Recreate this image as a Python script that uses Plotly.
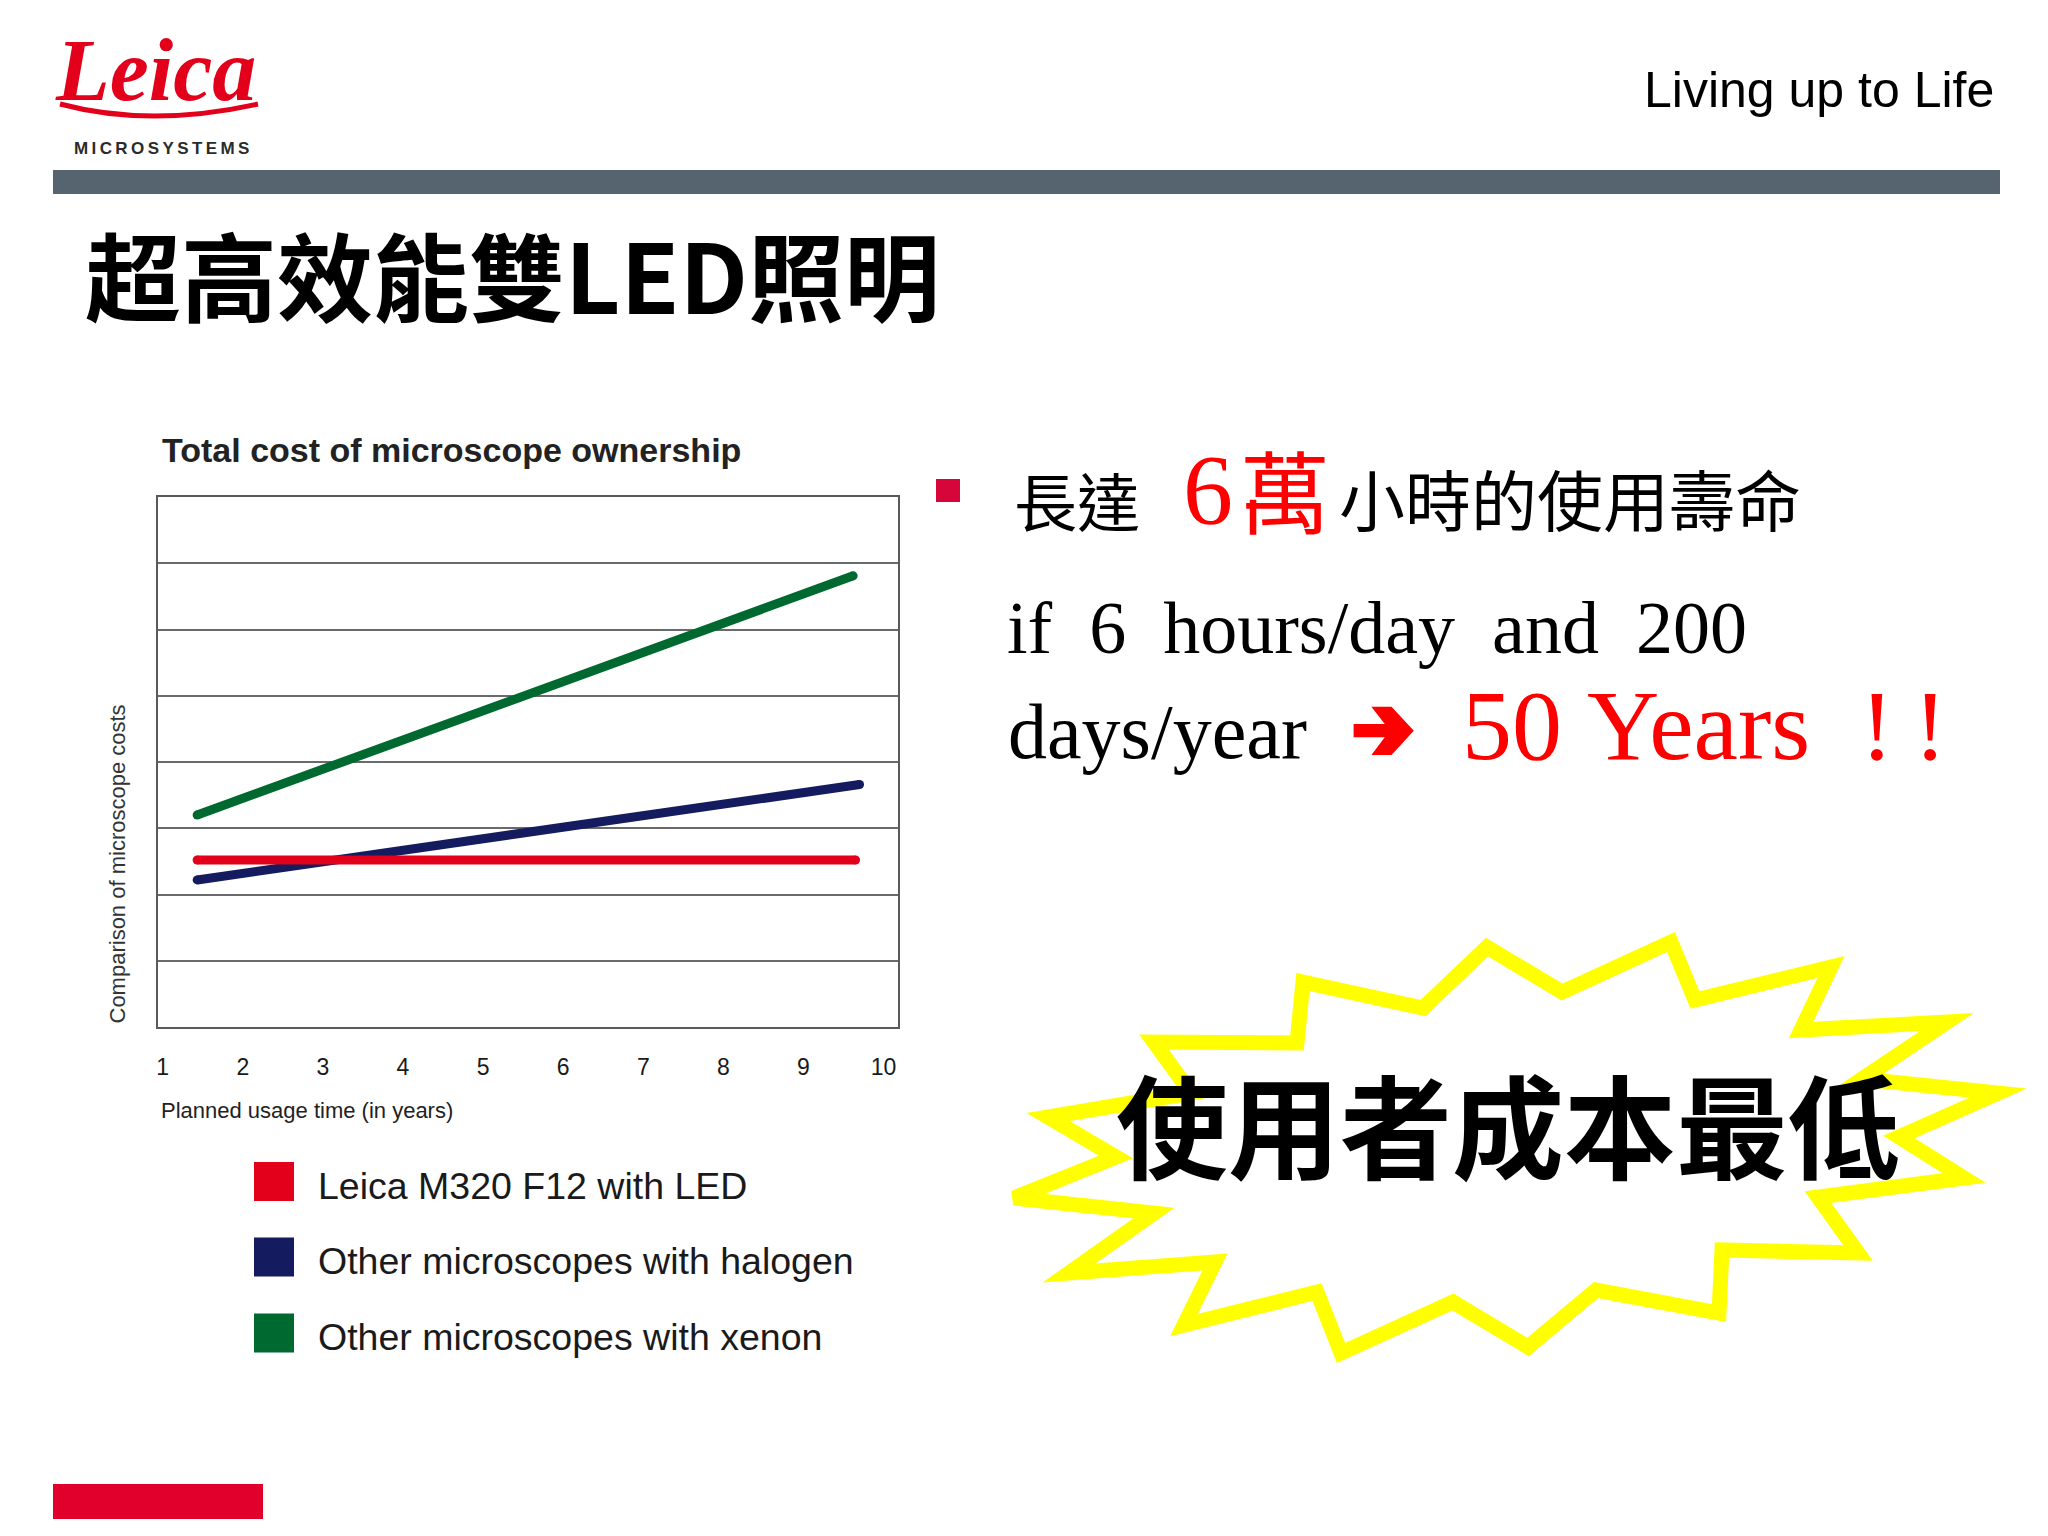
import plotly.graph_objects as go

# page body has an 8px default margin; size figure so it fits the window exactly
OFF = 8
W, H = 2048 - OFF, 1536 - OFF

# ---------------- data ----------------
years = [1, 2, 3, 4, 5, 6, 7, 8, 9, 10]
year_labels = [str(v) for v in years]
series_names = ["Leica M320 F12 with LED",
                "Other microscopes with halogen",
                "Other microscopes with xenon"]
series_colors = ["#E2001A", "#141B5E", "#00692F"]
led_x = [1.43, 9.65]
led_y = [2.52, 2.52]
halogen_x = [1.43, 9.70]
halogen_y = [2.22, 3.66]
xenon_x = [1.43, 9.62]
xenon_y = [3.20, 6.81]
grid_values = [0, 1, 2, 3, 4, 5, 6, 7, 8]


def px(x):
    return (x - OFF) / W


def py(y):
    return 1 - (y - OFF) / H


def path_from(points, close=True):
    s = "M " + " L ".join(f"{px(x):.5f},{py(y):.5f}" for x, y in points)
    return s + (" Z" if close else "")


SANS = "Liberation Sans, Arial, sans-serif"
SERIF = "Liberation Serif, Times New Roman, serif"
CJK = "Noto Sans CJK TC, Noto Sans CJK SC, sans-serif"

fig = go.Figure()

# lines (green, blue, red drawn last on top)
for xs, ys, name, col in [(xenon_x, xenon_y, series_names[2], series_colors[2]),
                          (halogen_x, halogen_y, series_names[1], series_colors[1]),
                          (led_x, led_y, series_names[0], series_colors[0])]:
    fig.add_trace(go.Scatter(x=xs, y=ys, mode="lines+markers", name=name,
                             line=dict(color=col, width=9),
                             marker=dict(color=col, size=9, line=dict(width=0)),
                             showlegend=False, hoverinfo="skip"))

fig.update_layout(
    width=W, height=H, autosize=False,
    margin=dict(l=0, r=0, t=0, b=0),
    paper_bgcolor="white", plot_bgcolor="white",
    showlegend=False,
    xaxis=dict(domain=[px(157.5), px(898)], range=[0.935, 10.18],
               tickmode="array", tickvals=years, ticktext=year_labels,
               ticks="outside", ticklen=19, tickcolor="rgba(0,0,0,0)",
               tickfont=dict(family=SANS, size=23, color="#1a1a1a"),
               showgrid=False, zeroline=False,
               showline=True, linecolor="#5a5a5a", linewidth=1.5, mirror=True,
               fixedrange=True),
    yaxis=dict(domain=[py(1027), py(497)], range=[0, 8],
               tickmode="array", tickvals=grid_values, showticklabels=False,
               showgrid=True, gridcolor="#6a6a6a", gridwidth=1.5,
               zeroline=False, ticks="",
               showline=True, linecolor="#5a5a5a", linewidth=1.5, mirror=True,
               fixedrange=True),
)

shapes = []
# header gray bar
shapes.append(dict(type="rect", xref="paper", yref="paper",
                   x0=px(53), x1=px(2000), y0=py(194), y1=py(170),
                   fillcolor="#566470", line=dict(width=0), layer="below"))
# bottom red bar
shapes.append(dict(type="rect", xref="paper", yref="paper",
                   x0=px(53), x1=px(263), y0=py(1519), y1=py(1484),
                   fillcolor="#E0002B", line=dict(width=0), layer="below"))
# Leica swoosh
shapes.append(dict(type="path", xref="paper", yref="paper",
                   path=f"M {px(60):.5f},{py(104):.5f} Q {px(150):.5f},{py(128):.5f} {px(258):.5f},{py(104):.5f}",
                   line=dict(color="#E2001A", width=5), layer="below"))
# bullet
shapes.append(dict(type="rect", xref="paper", yref="paper",
                   x0=px(936), x1=px(960), y0=py(502), y1=py(479),
                   fillcolor="#D6063A", line=dict(width=0)))
# legend squares
legend_rows = [1181.5, 1257, 1333]
for yc, col in zip(legend_rows, series_colors):
    shapes.append(dict(type="rect", xref="paper", yref="paper",
                       x0=px(254), x1=px(294), y0=py(yc + 19.5), y1=py(yc - 19.5),
                       fillcolor=col, line=dict(width=0)))
# red block arrow
arrow = [(1353.6, 724), (1384.8, 724), (1371.4, 706.7), (1391.5, 706.7),
         (1413.8, 730.7), (1391.5, 755), (1371.4, 755), (1384.8, 737.3),
         (1353.6, 737.3)]
shapes.append(dict(type="path", xref="paper", yref="paper", path=path_from(arrow),
                   fillcolor="#FF0000", line=dict(width=0)))
# starburst
star = [(1671, 942), (1695, 1000), (1831, 967), (1801, 1030), (1947, 1022),
        (1862, 1079), (1998, 1093), (1899, 1137), (1964, 1178), (1818, 1197),
        (1858, 1253), (1722, 1250), (1719, 1313), (1596, 1290), (1528, 1347),
        (1453, 1302), (1341, 1353), (1317, 1292), (1184, 1325), (1215, 1262),
        (1069, 1273), (1154, 1213), (1014, 1198), (1116, 1157), (1048, 1117),
        (1191, 1093), (1154, 1042), (1297, 1043), (1303, 982), (1423, 1008),
        (1487, 947), (1562, 992)]
shapes.append(dict(type="path", xref="paper", yref="paper", path=path_from(star),
                   fillcolor="white", line=dict(color="#FFFF00", width=15)))
fig.update_layout(shapes=shapes)

ann = []


def text(t, x, y, size, family=SANS, color="#000", xanchor="left", weight=None,
         angle=0, style=None):
    f = dict(family=family, size=size, color=color)
    if weight:
        f["weight"] = weight
    if style:
        f["style"] = style
    ann.append(dict(text=t, x=px(x), y=py(y), xref="paper", yref="paper",
                    xanchor=xanchor, yanchor="middle", showarrow=False,
                    font=f, textangle=angle))


# header
text("Living up to Life", 1996, 90, 50, SANS, "#000", "right")
text("Leica", 155, 70, 88, SERIF, "#E2001A", "center", weight="bold", style="italic")
text("M\u2009I\u2009C\u2009R\u2009O\u2009S\u2009Y\u2009S\u2009T\u2009E\u2009M\u2009S",
     161, 148.5, 17, SANS, "#2b2b2b", "center", weight="bold")
# slide title
text("超高效能雙LED照明", 83, 272, 96, CJK, "#000", "left", weight="bold")
# chart texts
text("Total cost of microscope ownership", 160, 449.5, 34, SANS, "#222", "left", weight="bold")
text("Comparison of microscope costs", 117, 864.5, 22, SANS, "#333", "center", angle=-90)
text("Planned usage time (in years)", 159, 1110, 22, SANS, "#222", "left")
for yc, name in zip(legend_rows, series_names):
    text(name, 316, yc + 4, 37.5, SANS, "#1a1a1a", "left")
# right side text
text("長達", 1012, 498, 63, CJK, "#000", "left")
text("6", 1181, 489, 100, SERIF, "#FF0000", "left")
text("萬", 1238, 488, 90, CJK, "#FF0000", "left")
text("小時的使用壽命", 1337, 497, 66, CJK, "#000", "left")
text("if\u00a0\u00a06\u00a0\u00a0hours/day\u00a0\u00a0and\u00a0\u00a0200", 1005, 628, 74, SERIF, "#000", "left")
text("days/year", 1006, 731, 78, SERIF, "#000", "left")
text("50\u00a0Years\u00a0\u00a0!\u2009!", 1460, 725, 100, SERIF, "#FF0000", "left")
text("使用者成本最低", 1508, 1122, 112, CJK, "#000", "center", weight="bold")

fig.update_layout(annotations=ann)
fig.write_html("out.html")
